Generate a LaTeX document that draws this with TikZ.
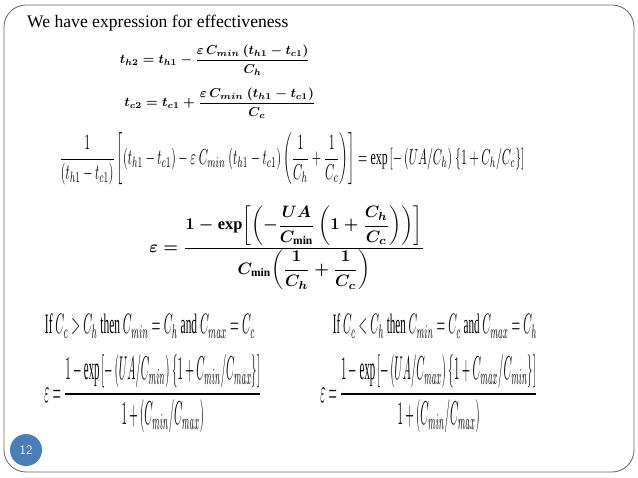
\documentclass[tikz,border=0pt]{standalone}
\usepackage{amsmath,graphicx}
\usepackage{fontspec}
\setmainfont{Liberation Serif}
\begin{document}
\begin{tikzpicture}[x=1pt,y=-1pt,
  eq/.style={inner sep=0pt,anchor=center}]
\useasboundingbox (0,0) rectangle (638,478);
\fill[white] (0,0) rectangle (638,478);
\draw[gray!80!black,line width=0.8pt,rounded corners=22pt] (4,5) rectangle (634,472);
\node[anchor=west,inner sep=0pt,font=\fontsize{17.6}{19}\selectfont] (title) at (27,23) {We have expression for effectiveness};
\node[eq] (e1) at (215,60) {\resizebox*{190pt}{31pt}{$\boldsymbol{t_{h2}=t_{h1}-\dfrac{\varepsilon\, C_{min}\ (t_{h1}-t_{c1})}{C_h}}$}};
\node[eq] (e2) at (220,103) {\resizebox*{191pt}{31pt}{$\boldsymbol{t_{c2}=t_{c1}+\dfrac{\varepsilon\, C_{min}\ (t_{h1}-t_{c1})}{C_c}}$}};
\node[eq] (e3) at (292,159) {\resizebox*{465pt}{52pt}{$\dfrac{1}{(t_{h1}-t_{c1})}\left[(t_{h1}-t_{c1})-\varepsilon\ C_{min}\ (t_{h1}-t_{c1})\left(\dfrac{1}{C_h}+\dfrac{1}{C_c}\right)\right]=\exp\,[-\,(UA/C_h)\ \{1+C_h/C_c\}]$}};
\node[eq] (e4) at (287,248) {\resizebox*{275pt}{84pt}{$\boldsymbol{\varepsilon=\dfrac{1-\exp\!\left[\left(-\dfrac{UA}{C_{\min}}\left(1+\dfrac{C_h}{C_c}\right)\right)\right]}{C_{\min}\!\left(\dfrac{1}{C_h}+\dfrac{1}{C_c}\right)}}$}};
\node[eq] (c1) at (150,326) {\resizebox*{210pt}{24pt}{If $C_c>C_h$ then $C_{min}=C_h$ and $C_{max}=C_c$}};
\node[eq] (c2) at (435,326) {\resizebox*{204pt}{24pt}{If $C_c<C_h$ then $C_{min}=C_c$ and $C_{max}=C_h$}};
\node[eq] (f1) at (153,394) {\resizebox*{217pt}{78pt}{$\varepsilon=\dfrac{1-\exp\,[-\,(UA/C_{min})\ \{1+C_{min}/C_{max}\}]}{1+(C_{min}/C_{max})}$}};
\node[eq] (f2) at (429,394) {\resizebox*{217pt}{78pt}{$\varepsilon=\dfrac{1-\exp\,[-\,(UA/C_{max})\ \{1+C_{max}/C_{min}\}]}{1+(C_{min}/C_{max})}$}};
\node[circle,fill={rgb,255:red,74;green,126;blue,187},minimum size=32pt,inner sep=0pt,text=white,font=\fontsize{13}{15}\sffamily] (pg) at (26,450) {12};
\end{tikzpicture}
\end{document}
